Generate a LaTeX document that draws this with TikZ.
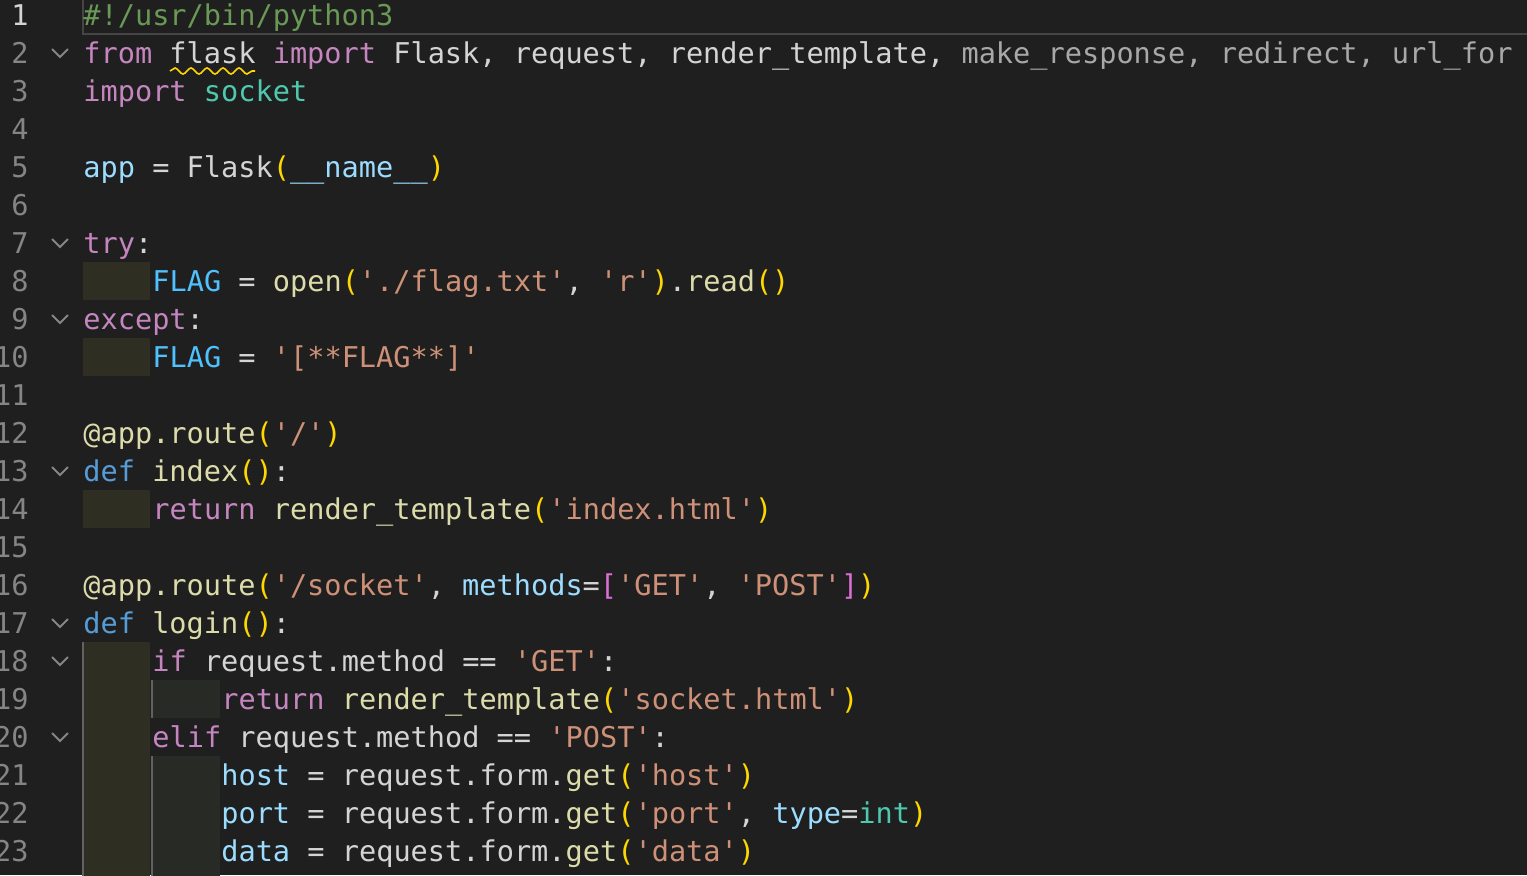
\documentclass[tikz,border=0pt]{standalone}
\usepackage{fontspec}
\usetikzlibrary{decorations.pathmorphing}
\newfontfamily\cf{DejaVu Sans Mono}
\definecolor{bg}{HTML}{1F1F1F}
\definecolor{ckw}{HTML}{C586C0}
\definecolor{cst}{HTML}{CE9178}
\definecolor{cvr}{HTML}{9CDCFE}
\definecolor{cfn}{HTML}{DCDCAA}
\definecolor{ctx}{HTML}{D4D4D4}
\definecolor{ccm}{HTML}{6A9955}
\definecolor{ccn}{HTML}{4FC1FF}
\definecolor{cty}{HTML}{4EC9B0}
\definecolor{cdf}{HTML}{569CD6}
\definecolor{cdm}{HTML}{A8A8A8}
\definecolor{cyb}{HTML}{FFD700}
\definecolor{cpb}{HTML}{DA70D6}
\definecolor{cln}{HTML}{858585}
\definecolor{ind}{HTML}{2F2E22}
\definecolor{indb}{HTML}{282B25}
\newcommand\Kw[1]{\textcolor{ckw}{#1}}
\newcommand\St[1]{\textcolor{cst}{#1}}
\newcommand\Vr[1]{\textcolor{cvr}{#1}}
\newcommand\Fn[1]{\textcolor{cfn}{#1}}
\newcommand\Tx[1]{\textcolor{ctx}{#1}}
\newcommand\Cm[1]{\textcolor{ccm}{#1}}
\newcommand\Cn[1]{\textcolor{ccn}{#1}}
\newcommand\Ty[1]{\textcolor{cty}{#1}}
\newcommand\Df[1]{\textcolor{cdf}{#1}}
\newcommand\Dm[1]{\textcolor{cdm}{#1}}
\newcommand\Yb[1]{\textcolor{cyb}{#1}}
\newcommand\Pb[1]{\textcolor{cpb}{#1}}
\tikzset{code/.style={anchor=base west,inner sep=0pt,font=\cf\fontsize{14.3}{14.3}\selectfont},
lnum/.style={anchor=base east,inner sep=0pt,text=cln,font=\cf\fontsize{14.3}{14.3}\selectfont},
chev/.style={draw=cln,line width=1pt}}
\newcommand\CL[4]{\node[code] (#1) at ({83+17.24*#3},{25+38*(#2-1)}) {#4};}
\begin{document}
\begin{tikzpicture}[x=0.5pt,y=-0.5pt]
\useasboundingbox (0,0) rectangle (1527,875);
\fill[bg] (0,0) rectangle (1527,875);
\begin{scope}
\clip (0,0) rectangle (1527,875);
% current line
\draw[draw=white!17!bg,line width=1pt] (83,-2) rectangle (1530,34);
% indent blocks
\foreach \n in {8,10,14} \fill[ind] (83,{38*(\n-1)-4}) rectangle (150,{38*\n-4});
\fill[ind] (83,{38*17-4}) rectangle (150,880);
\fill[indb] (152,{38*18-4}) rectangle (220,{38*19-4});
\fill[indb] (152,{38*20-4}) rectangle (220,880);
\draw[white!30!bg,line width=1pt] (83,{38*17-4}) -- (83,880);
\draw[white!30!bg,line width=1pt] (151.5,{38*18-4}) -- (151.5,{38*19-4});
\draw[white!30!bg,line width=1pt] (151.5,{38*20-4}) -- (151.5,880);
% line numbers
\foreach \n in {2,...,23} \node[lnum] (n\n) at (29,{25+38*(\n-1)}) {\n};
\node[lnum,text=ctx] (n1) at (29,25) {1};
% fold chevrons
\foreach \n in {2,7,9,13,17,18,20} \draw[chev] (52,{38*(\n-1)+11}) -- (60,{38*(\n-1)+19}) -- (68,{38*(\n-1)+11});
% code
\CL{l1}{1}{0}{\Cm{\#!/usr/bin/python3}}
\CL{l2}{2}{0}{\Kw{from} \Tx{flask} \Kw{import} \Tx{Flask, request, render\_template,} \Dm{make\_response, redirect, url\_for}}
\CL{l3}{3}{0}{\Kw{import} \Ty{socket}}
\CL{l5}{5}{0}{\Vr{app} \Tx{= Flask}\Yb{(}\Vr{\_\_name\_\_}\Yb{)}}
\CL{l7}{7}{0}{\Kw{try}\Tx{:}}
\CL{l8}{8}{4}{\Cn{FLAG} \Tx{=} \Fn{open}\Yb{(}\St{'./flag.txt'}\Tx{,} \St{'r'}\Yb{)}\Tx{.}\Fn{read}\Yb{()}}
\CL{l9}{9}{0}{\Kw{except}\Tx{:}}
\CL{l10}{10}{4}{\Cn{FLAG} \Tx{=} \St{'[**FLAG**]'}}
\CL{l12}{12}{0}{\Fn{@app.route}\Yb{(}\St{'/'}\Yb{)}}
\CL{l13}{13}{0}{\Df{def} \Fn{index}\Yb{()}\Tx{:}}
\CL{l14}{14}{4}{\Kw{return} \Fn{render\_template}\Yb{(}\St{'index.html'}\Yb{)}}
\CL{l16}{16}{0}{\Fn{@app.route}\Yb{(}\St{'/socket'}\Tx{,} \Vr{methods}\Tx{=}\Pb{[}\St{'GET'}\Tx{,} \St{'POST'}\Pb{]}\Yb{)}}
\CL{l17}{17}{0}{\Df{def} \Fn{login}\Yb{()}\Tx{:}}
\CL{l18}{18}{4}{\Kw{if} \Tx{request.method ==} \St{'GET'}\Tx{:}}
\CL{l19}{19}{8}{\Kw{return} \Fn{render\_template}\Yb{(}\St{'socket.html'}\Yb{)}}
\CL{l20}{20}{4}{\Kw{elif} \Tx{request.method ==} \St{'POST'}\Tx{:}}
\CL{l21}{21}{8}{\Vr{host} \Tx{= request.form.}\Fn{get}\Yb{(}\St{'host'}\Yb{)}}
\CL{l22}{22}{8}{\Vr{port} \Tx{= request.form.}\Fn{get}\Yb{(}\St{'port'}\Tx{,} \Vr{type}\Tx{=}\Ty{int}\Yb{)}}
\CL{l23}{23}{8}{\Vr{data} \Tx{= request.form.}\Fn{get}\Yb{(}\St{'data'}\Yb{)}}
% squiggle
\draw[cyb,line width=0.8pt,decorate,decoration={snake,amplitude=1.5,segment length=8}] (170,71) -- (255,71);
\end{scope}
\end{tikzpicture}
\end{document}
